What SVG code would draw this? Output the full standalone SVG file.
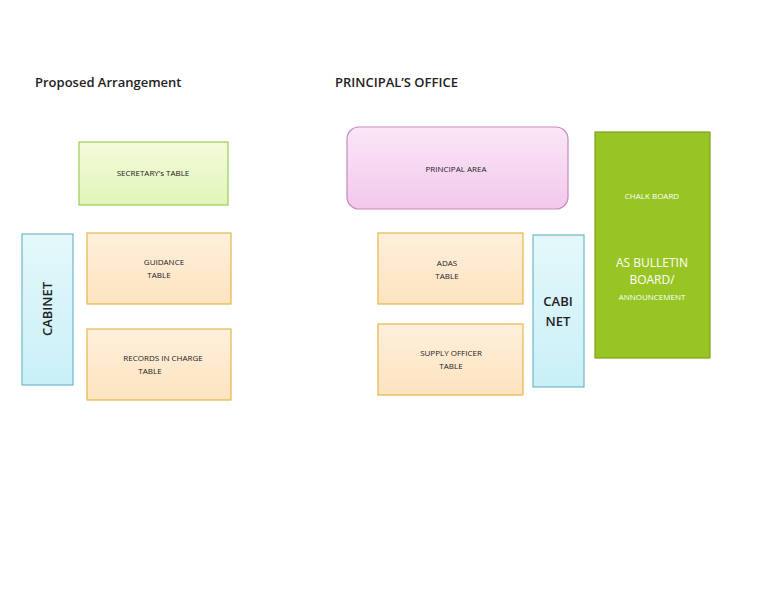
<svg xmlns="http://www.w3.org/2000/svg" width="768" height="594" viewBox="0 0 768 594">
<defs>
<linearGradient id="gG" x1="0" y1="0" x2="0" y2="1"><stop offset="0" stop-color="#f3fbdc"/><stop offset="1" stop-color="#e2f5b8"/></linearGradient>
<linearGradient id="gO" x1="0" y1="0" x2="0" y2="1"><stop offset="0" stop-color="#fff0dc"/><stop offset="1" stop-color="#fde3bf"/></linearGradient>
<linearGradient id="gB" x1="0" y1="0" x2="0" y2="1"><stop offset="0" stop-color="#e4f8fb"/><stop offset="1" stop-color="#c9f0f7"/></linearGradient>
<linearGradient id="gP" x1="0" y1="0" x2="0" y2="1"><stop offset="0" stop-color="#fbe6f7"/><stop offset="1" stop-color="#f2c8ec"/></linearGradient>
</defs>
<style>
text{font-family:"Open Sans","Liberation Sans",sans-serif;text-anchor:middle;fill:#222}
.s{font-size:8px}
.h{font-size:13px;text-anchor:start;font-weight:600}
.o{fill:url(#gO);stroke:#e8b54a;stroke-width:1.2}
.b{fill:url(#gB);stroke:#6fb8c6;stroke-width:1.2}
</style>
<rect width="768" height="594" fill="#fff"/>
<text class="h" x="35" y="87">Proposed Arrangement</text>
<text class="h" x="335" y="87">PRINCIPAL’S OFFICE</text>
<g id="secretary"><rect x="79" y="142" width="149" height="63" fill="url(#gG)" stroke="#9ccc5a" stroke-width="1.2"/><text class="s" x="153" y="176">SECRETARY’s TABLE</text></g>
<g id="cabinet1"><rect x="22" y="234" width="51" height="151" class="b"/><text x="48" y="309" font-size="13" font-weight="600" transform="rotate(-90 48 309)" dy="4">CABINET</text></g>
<g id="guidance"><rect x="87" y="233" width="144" height="71" class="o"/><text class="s" x="164" y="265">GUIDANCE</text><text class="s" x="159" y="278">TABLE</text></g>
<g id="records"><rect x="87" y="329" width="144" height="71" class="o"/><text class="s" x="163" y="361">RECORDS IN CHARGE</text><text class="s" x="150" y="374">TABLE</text></g>
<g id="principal"><rect x="347" y="127" width="221" height="82" rx="12" fill="url(#gP)" stroke="#c58ab9" stroke-width="1.2"/><text class="s" x="456" y="172">PRINCIPAL AREA</text></g>
<g id="adas"><rect x="378" y="233" width="145" height="71" class="o"/><text class="s" x="447" y="266">ADAS</text><text class="s" x="447" y="279">TABLE</text></g>
<g id="supply"><rect x="378" y="324" width="145" height="71" class="o"/><text class="s" x="451" y="356">SUPPLY OFFICER</text><text class="s" x="451" y="369">TABLE</text></g>
<g id="cabinet2"><rect x="533" y="235" width="51" height="152" class="b"/><text x="558" y="306" font-size="13" font-weight="600">CABI</text><text x="558" y="326" font-size="13" font-weight="600">NET</text></g>
<g id="chalkboard"><rect x="595" y="132" width="115" height="226" fill="#98c523" stroke="#7aa51a" stroke-width="1.2"/><text class="s" x="652" y="199" style="fill:#fff">CHALK BOARD</text><text x="652" y="267" font-size="12" style="fill:#fff">AS BULLETIN</text><text x="652" y="284" font-size="12" style="fill:#fff">BOARD/</text><text class="s" x="652" y="300" style="fill:#fff">ANNOUNCEMENT</text></g>
<g id="connectors"/>
</svg>
